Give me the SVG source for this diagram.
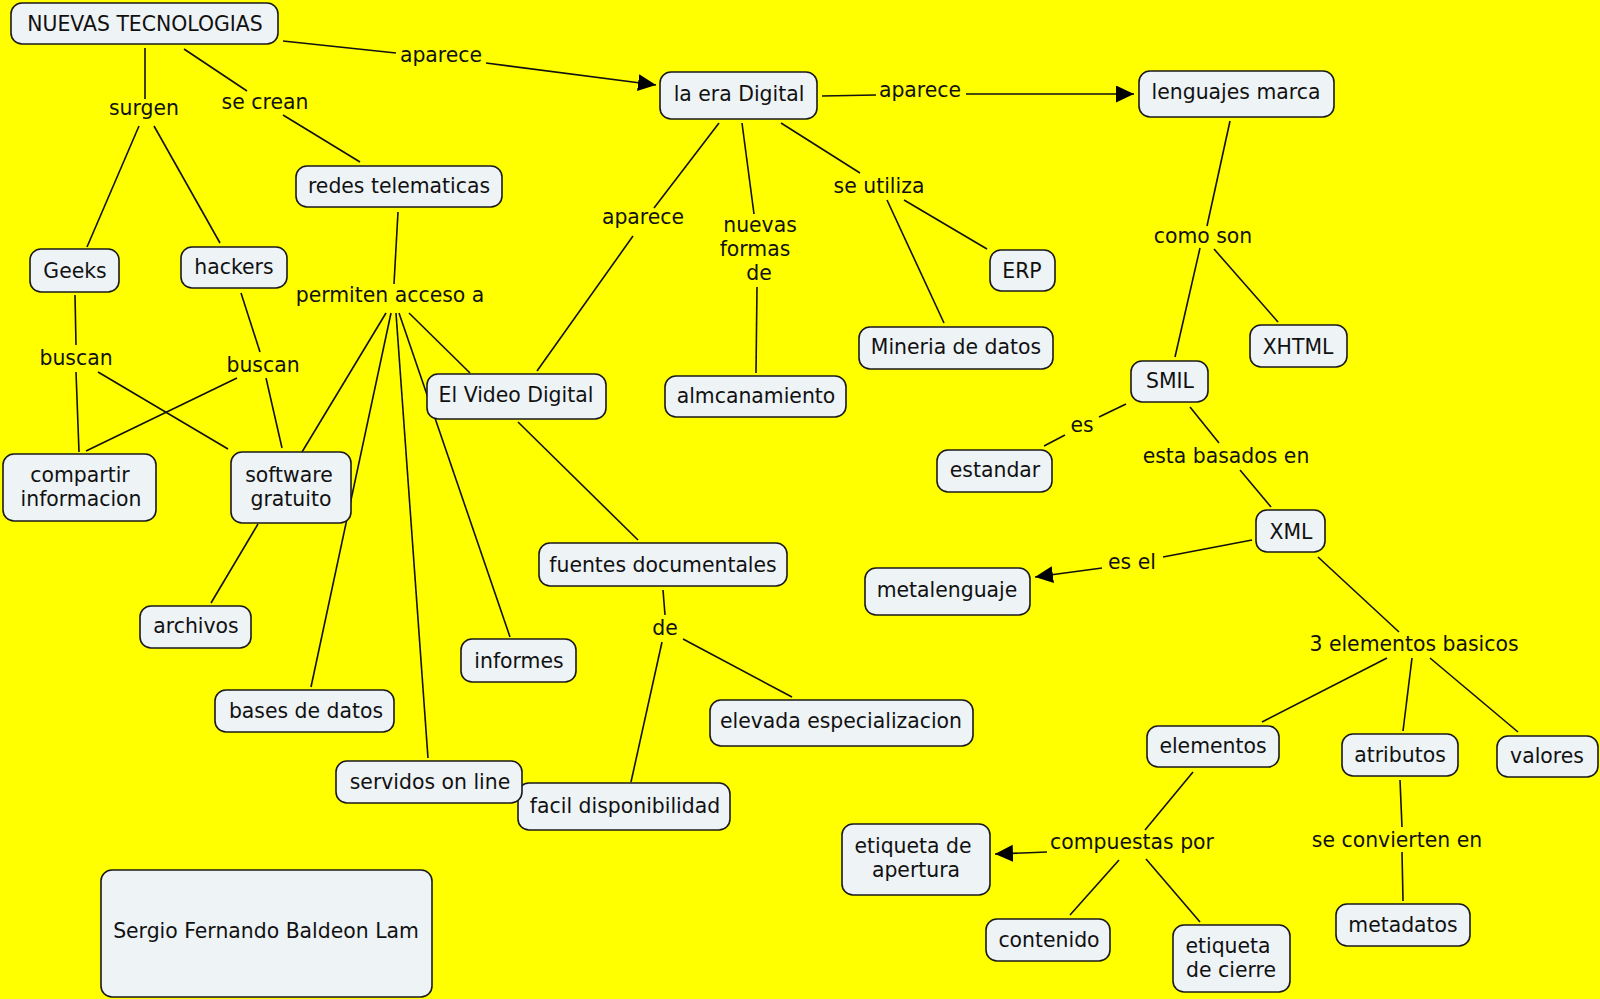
<svg xmlns="http://www.w3.org/2000/svg" width="1600" height="999" viewBox="0 0 1600 999">
<style>
.bg{fill:#FFFF00}
.n rect{fill:#EEF3F6;stroke:#1a1a1a;stroke-width:1.6}
text{font-family:"DejaVu Sans",Verdana,sans-serif;font-size:20.4px;fill:#111;text-anchor:middle}
.c line{stroke:#111;stroke-width:1.6}
.c line.a{marker-end:url(#arr)}
</style>
<defs>
<marker id="arr" markerUnits="userSpaceOnUse" markerWidth="19" markerHeight="18" refX="18" refY="8.5" orient="auto">
<path d="M0,0 L18,8.5 L0,17 z" fill="#000"/>
</marker>
</defs>
<rect class="bg" x="0" y="0" width="1600" height="999"/>
<g id="connectors" class="c">
<line x1="283" y1="41" x2="396" y2="53"/>
<line class="a" x1="486" y1="63" x2="656" y2="85"/>
<line x1="145" y1="48" x2="145" y2="99"/>
<line x1="184" y1="49" x2="247" y2="91"/>
<line x1="283" y1="115" x2="360" y2="162"/>
<line x1="139" y1="126" x2="87" y2="247"/>
<line x1="154" y1="126" x2="220" y2="243"/>
<line x1="398" y1="212" x2="394" y2="284"/>
<line x1="75" y1="295" x2="76" y2="345"/>
<line x1="76" y1="372" x2="79" y2="452"/>
<line x1="98" y1="372" x2="228" y2="449"/>
<line x1="241" y1="293" x2="260" y2="352"/>
<line x1="237" y1="378" x2="86" y2="451"/>
<line x1="266" y1="378" x2="282" y2="448"/>
<line x1="258" y1="524" x2="211" y2="603"/>
<line x1="386" y1="313" x2="302" y2="452"/>
<line x1="391" y1="313" x2="311" y2="687"/>
<line x1="396" y1="313" x2="428" y2="758"/>
<line x1="399" y1="313" x2="510" y2="637"/>
<line x1="409" y1="313" x2="470" y2="373"/>
<line x1="822" y1="96" x2="876" y2="95"/>
<line class="a" x1="966" y1="94" x2="1134" y2="94"/>
<line x1="719" y1="123" x2="654" y2="208"/>
<line x1="633" y1="236" x2="537" y2="371"/>
<line x1="742" y1="123" x2="754" y2="214"/>
<line x1="757" y1="287" x2="756" y2="373"/>
<line x1="781" y1="123" x2="860" y2="173"/>
<line x1="904" y1="200" x2="987" y2="249"/>
<line x1="887" y1="200" x2="944" y2="323"/>
<line x1="1230" y1="121" x2="1207" y2="226"/>
<line x1="1200" y1="248" x2="1175" y2="357"/>
<line x1="1214" y1="249" x2="1278" y2="322"/>
<line x1="1126" y1="404" x2="1099" y2="417"/>
<line x1="1065" y1="435" x2="1044" y2="446"/>
<line x1="1190" y1="407" x2="1219" y2="443"/>
<line x1="1240" y1="470" x2="1271" y2="507"/>
<line x1="1252" y1="540" x2="1163" y2="557"/>
<line class="a" x1="1102" y1="568" x2="1035" y2="577"/>
<line x1="1318" y1="557" x2="1399" y2="632"/>
<line x1="518" y1="422" x2="638" y2="540"/>
<line x1="663" y1="590" x2="665" y2="615"/>
<line x1="662" y1="642" x2="631" y2="782"/>
<line x1="683" y1="639" x2="792" y2="697"/>
<line x1="1387" y1="658" x2="1262" y2="722"/>
<line x1="1412" y1="658" x2="1403" y2="731"/>
<line x1="1430" y1="658" x2="1518" y2="732"/>
<line x1="1193" y1="772" x2="1145" y2="830"/>
<line class="a" x1="1047" y1="852" x2="995" y2="854"/>
<line x1="1119" y1="860" x2="1070" y2="915"/>
<line x1="1146" y1="859" x2="1200" y2="922"/>
<line x1="1400" y1="780" x2="1402" y2="827"/>
<line x1="1402" y1="852" x2="1403" y2="901"/>
</g>
<g id="labels">
<text x="441" y="62">aparece</text>
<text x="144" y="115">surgen</text>
<text x="265" y="109">se crean</text>
<text x="390" y="302">permiten acceso a</text>
<text x="76" y="365">buscan</text>
<text x="263" y="372">buscan</text>
<text x="920" y="97">aparece</text>
<text x="643" y="224">aparece</text>
<text x="760" y="232">nuevas</text>
<text x="755" y="256">formas</text>
<text x="759" y="280">de</text>
<text x="879" y="193">se utiliza</text>
<text x="1203" y="243">como son</text>
<text x="1082" y="432">es</text>
<text x="1226" y="463">esta basados en</text>
<text x="1132" y="569">es el</text>
<text x="665" y="635">de</text>
<text x="1414" y="651">3 elementos basicos</text>
<text x="1132" y="849">compuestas por</text>
<text x="1397" y="847">se convierten en</text>
</g>
<g id="n-nuevas" class="n"><rect x="11" y="3" width="267" height="41" rx="11"/><text x="145" y="31">NUEVAS TECNOLOGIAS</text></g>
<g id="n-redes" class="n"><rect x="296" y="166" width="206" height="41" rx="11"/><text x="399" y="193">redes telematicas</text></g>
<g id="n-geeks" class="n"><rect x="30" y="249" width="89" height="43" rx="11"/><text x="75" y="278">Geeks</text></g>
<g id="n-hackers" class="n"><rect x="181" y="247" width="106" height="41" rx="11"/><text x="234" y="274">hackers</text></g>
<g id="n-era" class="n"><rect x="660" y="72" width="157" height="47" rx="11"/><text x="739" y="101">la era Digital</text></g>
<g id="n-lenguajes" class="n"><rect x="1139" y="71" width="195" height="46" rx="11"/><text x="1236" y="99">lenguajes marca</text></g>
<g id="n-erp" class="n"><rect x="990" y="250" width="65" height="41" rx="11"/><text x="1022" y="278">ERP</text></g>
<g id="n-xhtml" class="n"><rect x="1250" y="325" width="97" height="42" rx="11"/><text x="1298" y="354">XHTML</text></g>
<g id="n-smil" class="n"><rect x="1131" y="361" width="77" height="41" rx="11"/><text x="1170" y="388">SMIL</text></g>
<g id="n-mineria" class="n"><rect x="859" y="327" width="194" height="42" rx="11"/><text x="956" y="354">Mineria de datos</text></g>
<g id="n-video" class="n"><rect x="427" y="374" width="179" height="45" rx="11"/><text x="516" y="402">El Video Digital</text></g>
<g id="n-almc" class="n"><rect x="665" y="376" width="181" height="41" rx="11"/><text x="756" y="403">almcanamiento</text></g>
<g id="n-compartir" class="n"><rect x="3" y="454" width="153" height="67" rx="11"/><text x="80" y="482">compartir</text><text x="81" y="506">informacion</text></g>
<g id="n-software" class="n"><rect x="231" y="452" width="120" height="71" rx="11"/><text x="289" y="482">software</text><text x="291" y="506">gratuito</text></g>
<g id="n-estandar" class="n"><rect x="937" y="450" width="115" height="42" rx="11"/><text x="995" y="477">estandar</text></g>
<g id="n-xml" class="n"><rect x="1256" y="510" width="69" height="42" rx="11"/><text x="1291" y="539">XML</text></g>
<g id="n-fuentes" class="n"><rect x="539" y="543" width="248" height="43" rx="11"/><text x="663" y="572">fuentes documentales</text></g>
<g id="n-metalenguaje" class="n"><rect x="865" y="568" width="165" height="47" rx="11"/><text x="947" y="597">metalenguaje</text></g>
<g id="n-archivos" class="n"><rect x="140" y="606" width="111" height="42" rx="11"/><text x="196" y="633">archivos</text></g>
<g id="n-informes" class="n"><rect x="461" y="639" width="115" height="43" rx="11"/><text x="519" y="668">informes</text></g>
<g id="n-bases" class="n"><rect x="215" y="690" width="179" height="42" rx="11"/><text x="306" y="718">bases de datos</text></g>
<g id="n-elevada" class="n"><rect x="710" y="700" width="263" height="46" rx="11"/><text x="841" y="728">elevada especializacion</text></g>
<g id="n-elementos" class="n"><rect x="1147" y="726" width="132" height="41" rx="11"/><text x="1213" y="753">elementos</text></g>
<g id="n-atributos" class="n"><rect x="1342" y="734" width="116" height="42" rx="11"/><text x="1400" y="762">atributos</text></g>
<g id="n-valores" class="n"><rect x="1497" y="736" width="101" height="41" rx="11"/><text x="1547" y="763">valores</text></g>
<g id="n-facil" class="n"><rect x="518" y="783" width="212" height="47" rx="11"/><text x="625" y="813">facil disponibilidad</text></g>
<g id="n-servidos" class="n"><rect x="336" y="761" width="186" height="42" rx="11"/><text x="430" y="789">servidos on line</text></g>
<g id="n-apertura" class="n"><rect x="842" y="824" width="148" height="71" rx="11"/><text x="913" y="853">etiqueta de</text><text x="916" y="877">apertura</text></g>
<g id="n-contenido" class="n"><rect x="986" y="919" width="124" height="42" rx="11"/><text x="1049" y="947">contenido</text></g>
<g id="n-cierre" class="n"><rect x="1173" y="925" width="117" height="67" rx="11"/><text x="1228" y="953">etiqueta</text><text x="1231" y="977">de cierre</text></g>
<g id="n-metadatos" class="n"><rect x="1336" y="904" width="134" height="42" rx="11"/><text x="1403" y="932">metadatos</text></g>
<g id="n-sergio" class="n"><rect x="101" y="870" width="331" height="127" rx="11"/><text x="266" y="938">Sergio Fernando Baldeon Lam</text></g>
</svg>
